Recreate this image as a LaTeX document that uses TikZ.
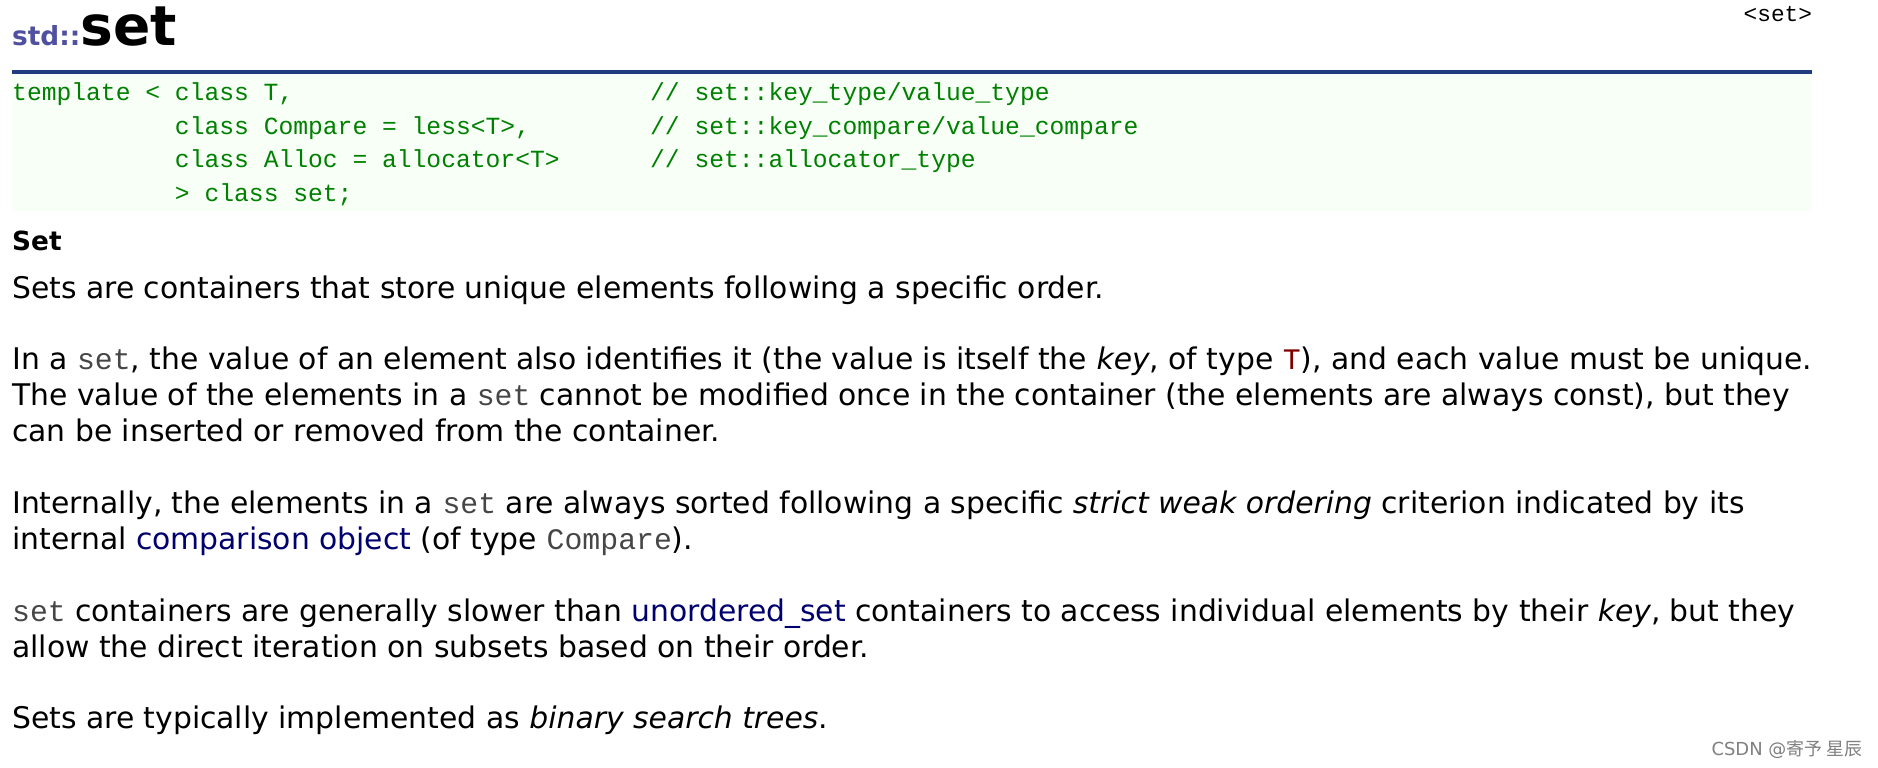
\documentclass[tikz,border=0pt]{standalone}
\usepackage{fontspec}
\setmainfont{DejaVu Sans}
\setmonofont{Liberation Mono}
\newfontfamily\cjk{Noto Sans CJK SC}
\definecolor{codegreen}{RGB}{0,128,0}
\definecolor{codebg}{RGB}{247,255,247}
\definecolor{rulecol}{RGB}{31,60,127}
\definecolor{stdcol}{RGB}{80,80,160}
\definecolor{linkcol}{RGB}{0,0,110}
\definecolor{tcol}{RGB}{128,0,0}
\definecolor{codegray}{RGB}{70,70,70}
\newcommand{\cd}[1]{{\ttfamily\color{codegray}#1}}
\begin{document}
\begin{tikzpicture}[x=1pt,y=-1pt,
  body/.style={anchor=base west,inner sep=0pt,font=\fontsize{24.9}{28}\selectfont},
  code/.style={anchor=base west,inner sep=0pt,font=\ttfamily\fontsize{20.6}{24}\selectfont,text=codegreen}]
\useasboundingbox (0,0) rectangle (1569,641);
\fill[white] (0,0) rectangle (1569,641);
\node[anchor=base west,inner sep=0pt] (title) at (10,38) {\bfseries\fontsize{22}{24}\selectfont\color{stdcol}std::\fontsize{46}{48}\selectfont\color{black}set};
\node[anchor=base east,inner sep=0pt,font=\ttfamily\fontsize{19}{20}\selectfont] (hdr) at (1514,18) {<set>};
\fill[rulecol] (10,58.5) rectangle (1514,62);
\fill[codebg] (10,62) rectangle (1514,176);
\node[code] (c1) at (10,84) {template < class T,};
\node[code] (c2) at (146,112) {class Compare = less<T>,};
\node[code] (c3) at (146,140) {class Alloc = allocator<T>};
\node[code] (c4) at (146,168) {> class set;};
\node[code] (k1) at (543,84) {// set::key\_type/value\_type};
\node[code] (k2) at (543,112) {// set::key\_compare/value\_compare};
\node[code] (k3) at (543,140) {// set::allocator\_type};
\node[body,font=\bfseries\fontsize{22}{24}\selectfont] (h) at (10,209) {Set};
\node[body] (l1) at (10,249) {Sets are containers that store unique elements following a specific order.};
\node[body] (l2) at (10,309) {In a \cd{set}, the value of an element also identifies it (the value is itself the \textit{key}, of type {\ttfamily\color{tcol}T}), and each value must be unique.};
\node[body] (l3) at (10,339) {The value of the elements in a \cd{set} cannot be modified once in the container (the elements are always const), but they};
\node[body] (l4) at (10,369) {can be inserted or removed from the container.};
\node[body] (l5) at (10,429) {Internally, the elements in a \cd{set} are always sorted following a specific \textit{strict weak ordering} criterion indicated by its};
\node[body] (l6) at (10,459) {internal {\color{linkcol}comparison object} (of type \cd{Compare}).};
\node[body] (l7) at (10,519) {\cd{set} containers are generally slower than {\color{linkcol}unordered\_set} containers to access individual elements by their \textit{key}, but they};
\node[body] (l8) at (10,549) {allow the direct iteration on subsets based on their order.};
\node[body] (l9) at (10,609) {Sets are typically implemented as \textit{binary search trees}.};
\node[anchor=base east,inner sep=0pt,text=gray,font=\fontsize{15}{17}\selectfont] (wm) at (1556,631) {CSDN @{\cjk 寄予 星辰}};
\end{tikzpicture}
\end{document}
